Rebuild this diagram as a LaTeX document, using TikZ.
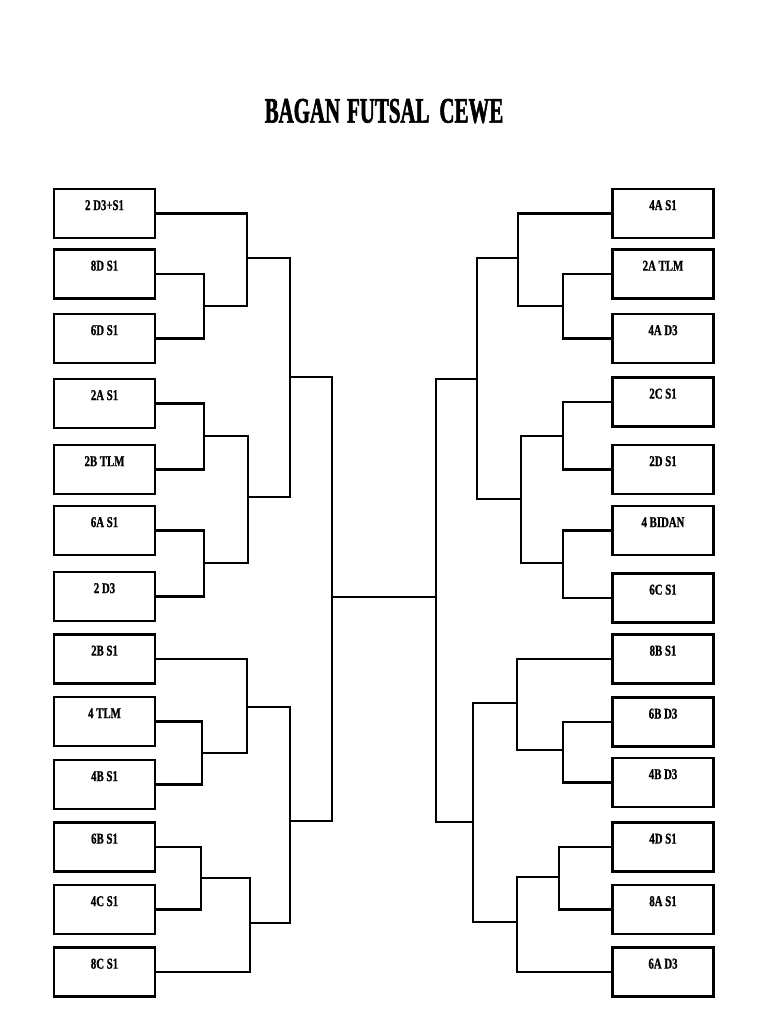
\documentclass[tikz,border=0pt]{standalone}
\usepackage{fontspec}
\newfontfamily\titlefont[FakeStretch=0.58,FakeBold=1.5]{Liberation Serif Bold}
\newfontfamily\boxfont[FakeStretch=0.72,FakeBold=1]{Liberation Serif Bold}
\begin{document}
\begin{tikzpicture}[x=1pt,y=-1pt,
  team/.style={draw, line width=2.6pt, minimum width=101pt, minimum height=49pt, inner sep=0pt},
  lbl/.style={font=\boxfont\fontsize{15}{15}\selectfont},
  conn/.style={line width=2.6pt, line join=miter, line cap=rect}]
\useasboundingbox (0,0) rectangle (768,1024);
\node[font=\titlefont\fontsize{36}{36}\selectfont] (title) at (384,111) {BAGAN\hspace{7pt}FUTSAL\hspace{10pt}CEWE};
% left teams
\foreach \n/\y/\t in {L1/213.5/2 D3+S1, L2/274/8D S1, L3/338.5/6D S1, L4/403.5/2A S1, L5/469.5/2B TLM, L6/530.5/6A S1, L7/596.5/2 D3, L8/659/2B S1, L9/721.5/4 TLM, L10/784.5/4B S1, L11/847/6B S1, L12/909.5/4C S1, L13/972/8C S1}
  \node[team, label={[lbl, anchor=center, yshift=-17.5pt]north:\t}] (\n) at (104.5,\y) {};
% right teams
\foreach \n/\y/\t in {R1/213.5/4A S1, R2/274/2A TLM, R3/338.5/4A D3, R4/402/2C S1, R5/469.5/2D S1, R6/530.5/4 BIDAN, R7/598/6C S1, R8/659/8B S1, R9/722/6B D3, R10/782.5/4B D3, R11/847/4D S1, R12/909.5/8A S1, R13/972/6A D3}
  \node[team, label={[lbl, anchor=center, yshift=-17.5pt]north:\t}] (\n) at (663,\y) {};
% left junctions
\coordinate (jL23) at (204,306);
\coordinate (jL123) at (247,258);
\coordinate (jL45) at (204,436);
\coordinate (jL67) at (204,563);
\coordinate (jL4567) at (248,497);
\coordinate (jLtop) at (290,377);
\coordinate (jL910) at (202,753);
\coordinate (jL8910) at (247,707);
\coordinate (jL1112) at (201,878);
\coordinate (jL111213) at (250,923);
\coordinate (jLbot) at (290,821);
\coordinate (jLfin) at (332,597);
% right junctions
\coordinate (jR23) at (563,306);
\coordinate (jR123) at (518,258);
\coordinate (jR45) at (563,436);
\coordinate (jR67) at (563,563);
\coordinate (jR4567) at (521,499);
\coordinate (jRtop) at (477,379);
\coordinate (jR910) at (563,750);
\coordinate (jR8910) at (517,703);
\coordinate (jR1112) at (559,877);
\coordinate (jR111213) at (517,922);
\coordinate (jRbot) at (473,822);
\coordinate (jRfin) at (436,597);
% left connectors
\draw[conn] (L2.east) -| (jL23) |- (L3.east);
\draw[conn] (jL23) -| (jL123) |- (L1.east);
\draw[conn] (L4.east) -| (jL45) |- (L5.east);
\draw[conn] (L6.east) -| (jL67) |- (L7.east);
\draw[conn] (jL45) -| (jL4567) |- (jL67);
\draw[conn] (jL123) -| (jLtop) |- (jL4567);
\draw[conn] (L9.east) -| (jL910) |- (L10.east);
\draw[conn] (jL910) -| (jL8910) |- (L8.east);
\draw[conn] (L11.east) -| (jL1112) |- (L12.east);
\draw[conn] (jL1112) -| (jL111213) |- (L13.east);
\draw[conn] (jL8910) -| (jLbot) |- (jL111213);
\draw[conn] (jLtop) -| (jLfin) |- (jLbot);
% right connectors
\draw[conn] (R2.west) -| (jR23) |- (R3.west);
\draw[conn] (jR23) -| (jR123) |- (R1.west);
\draw[conn] (R4.west) -| (jR45) |- (R5.west);
\draw[conn] (R6.west) -| (jR67) |- (R7.west);
\draw[conn] (jR45) -| (jR4567) |- (jR67);
\draw[conn] (jR123) -| (jRtop) |- (jR4567);
\draw[conn] (R9.west) -| (jR910) |- (R10.west);
\draw[conn] (jR910) -| (jR8910) |- (R8.west);
\draw[conn] (R11.west) -| (jR1112) |- (R12.west);
\draw[conn] (jR1112) -| (jR111213) |- (R13.west);
\draw[conn] (jR8910) -| (jRbot) |- (jR111213);
\draw[conn] (jRtop) -| (jRfin) |- (jRbot);
% final
\draw[conn] (jLfin) -- (jRfin);
\end{tikzpicture}
\end{document}
